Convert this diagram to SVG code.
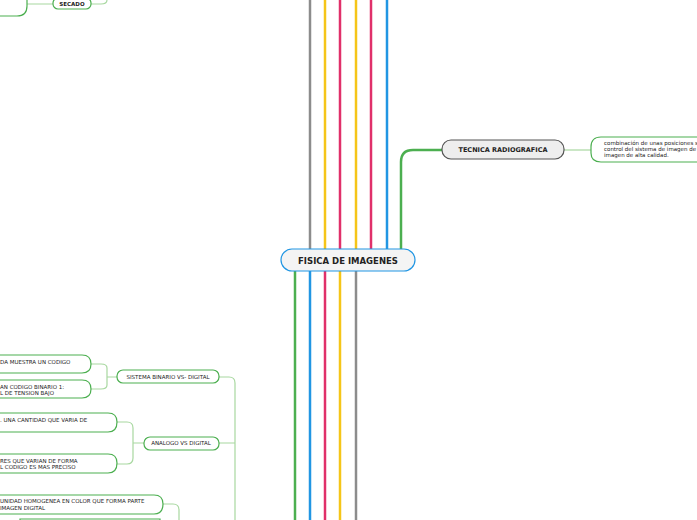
<svg xmlns="http://www.w3.org/2000/svg" width="697" height="520" viewBox="0 0 697 520">
<style>
text{font-family:Verdana,"DejaVu Sans",sans-serif;fill:#222}
.v{fill:none;stroke-width:2.5}
.c{fill:none;stroke:#a8d8a0;stroke-width:1.2}
.leaf{fill:#fff;stroke:#4caf50;stroke-width:1.2}
.mid{fill:#fff;stroke:#4caf50;stroke-width:1.2}
.s{font-size:5.5px}
</style>
<rect width="697" height="520" fill="#fff"/>
<g id="connectors">
<path class="v" stroke="#8c8c8c" d="M310 0V250"/>
<path class="v" stroke="#f5c518" d="M325 0V250"/>
<path class="v" stroke="#e0306a" d="M340 0V250"/>
<path class="v" stroke="#f5c518" d="M356 0V250"/>
<path class="v" stroke="#e0306a" d="M371 0V250"/>
<path class="v" stroke="#2196e3" d="M387 0V250"/>
<path class="v" stroke="#4caf50" d="M295 270V520"/>
<path class="v" stroke="#2196e3" d="M310 270V520"/>
<path class="v" stroke="#e0306a" d="M325 270V520"/>
<path class="v" stroke="#f5c518" d="M340 270V520"/>
<path class="v" stroke="#8c8c8c" d="M356 270V520"/>
<path class="v" stroke="#4caf50" d="M401 250V162Q401 150 413 150H442"/>
<path class="c" stroke="#ccc" d="M564 150H591"/>
<path class="c" d="M219 377H229Q235 377 235 383V520M219 443H235M179 520V510Q179 504 173 504H163"/>
<path class="c" d="M117 377H107V368Q107 364 101 364H91M107 377V385Q107 389 101 389H91"/>
<path class="c" d="M144 443H133V428Q133 422 127 422H117M133 443V458Q133 464 127 464H117"/>
<path class="c" stroke="#ccc" d="M91 4H101Q107 4 107 0M27 4H53"/>
</g>
<g id="center"><rect x="281" y="249" width="134" height="22" rx="11" fill="#f4f4f4" stroke="#2196e3" stroke-width="1.2"/><text x="348" y="264" text-anchor="middle" font-size="8.5" font-weight="bold">FISICA DE IMAGENES</text></g>
<g id="tecnica"><rect x="442" y="140" width="122" height="19" rx="9" fill="#eee" stroke="#555" stroke-width="1.2"/><text x="503" y="152" text-anchor="middle" font-size="6.5" font-weight="bold">TECNICA RADIOGRAFICA</text></g>
<g id="tecnica-desc"><path class="leaf" d="M710 137H601Q591 137 591 147V153Q591 162 601 162H710"/><text class="s" x="604" y="145">combinación de unas posiciones s</text><text class="s" x="604" y="151">control del sistema de imagen de</text><text class="s" x="604" y="157">imagen de alta calidad.</text></g>
<g id="secado"><rect x="53" y="-2" width="38" height="11" rx="5" class="mid"/><text x="72" y="6" text-anchor="middle" font-size="5.5" font-weight="bold">SECADO</text></g>
<g id="topleft"><path class="leaf" d="M-5 16H17Q27 16 27 6V-2"/></g>
<g id="sistema"><rect x="117" y="370" width="102" height="13" rx="6" class="mid"/><text class="s" x="168" y="379" text-anchor="middle">SISTEMA BINARIO VS- DIGITAL</text></g>
<g id="s1"><path class="leaf" d="M-5 355H82Q91 355 91 364Q91 373 82 373H-5"/><text class="s" x="0" y="364">DA MUESTRA UN CODIGO</text></g>
<g id="s2"><path class="leaf" d="M-5 380H82Q91 380 91 389Q91 398 82 398H-5"/><text class="s" x="0" y="389">AN CODIGO BINARIO 1:</text><text class="s" x="0" y="395">L DE TENSION BAJO</text></g>
<g id="analogo"><rect x="144" y="437" width="75" height="13" rx="6" class="mid"/><text class="s" x="181" y="445" text-anchor="middle">ANALOGO VS DIGITAL</text></g>
<g id="a1"><path class="leaf" d="M-5 413H108Q117 413 117 422Q117 432 108 432H-5"/><text class="s" x="0" y="422">. UNA CANTIDAD QUE VARIA DE</text></g>
<g id="a2"><path class="leaf" d="M-5 454H108Q117 454 117 463Q117 473 108 473H-5"/><text class="s" x="0" y="463">RES QUE VARIAN DE FORMA</text><text class="s" x="0" y="469">L CODIGO ES MAS PRECISO</text></g>
<g id="p1"><path class="leaf" d="M-5 495H154Q163 495 163 504Q163 514 154 514H-5"/><text class="s" x="0" y="503">UNIDAD HOMOGENEA EN COLOR QUE FORMA PARTE</text><text class="s" x="0" y="510">IMAGEN DIGITAL</text></g>
<g id="p2"><path class="leaf" d="M20 519H160V525H20Z"/></g>
</svg>
